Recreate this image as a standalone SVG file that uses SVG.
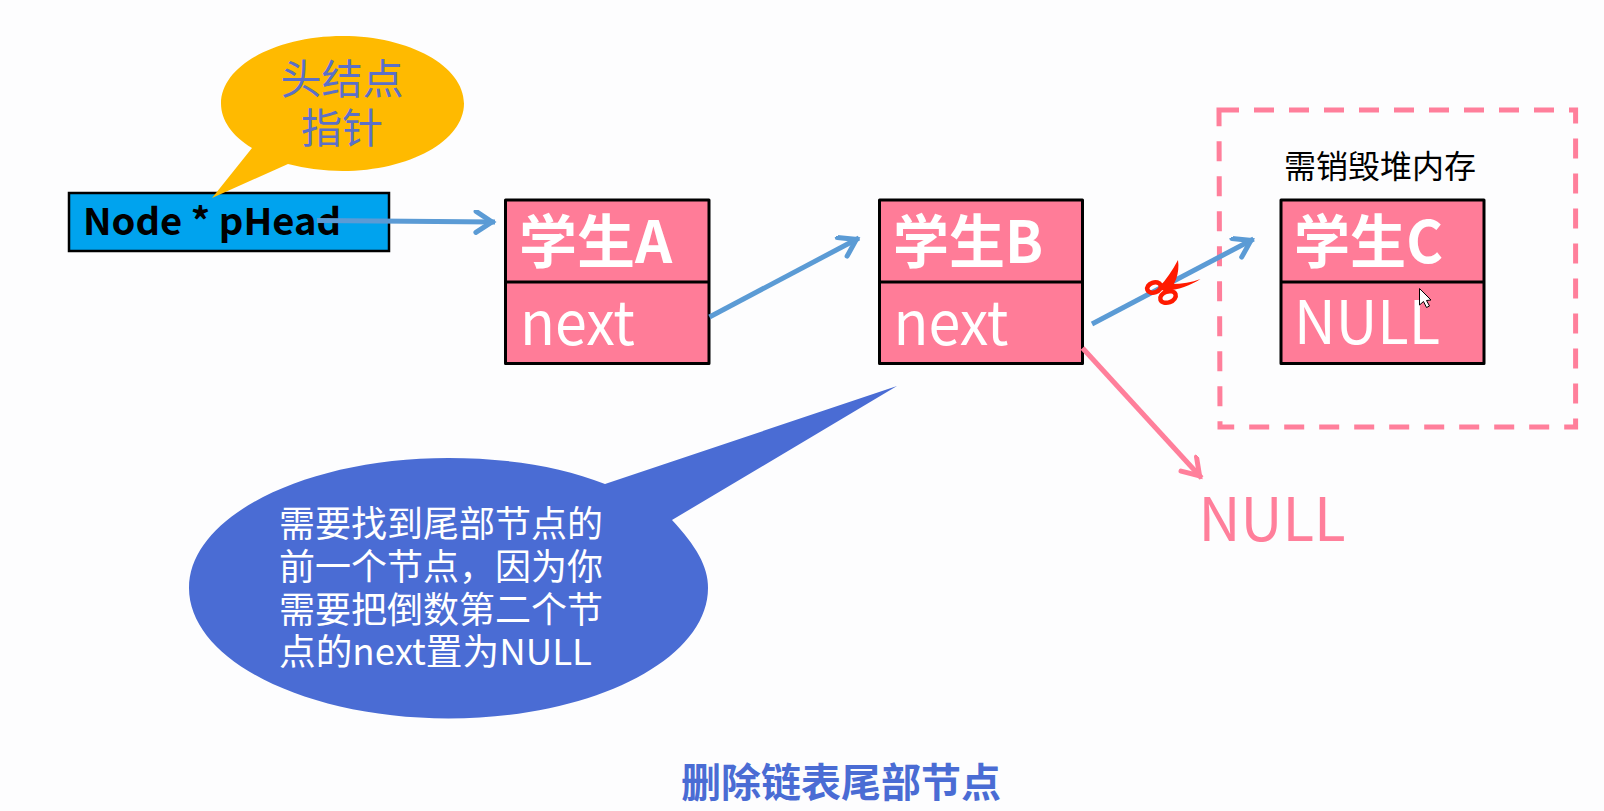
<svg xmlns="http://www.w3.org/2000/svg" width="1604" height="811" viewBox="0 0 1604 811">
<style>
text{font-family:"Noto Sans CJK SC","Noto Sans",sans-serif}
.box{fill:#FF7C98;stroke:#000;stroke-width:3;stroke-linejoin:round}
.div{stroke:#000;stroke-width:3}
.t{fill:#fff;font-size:58px;font-weight:700}
.n{fill:#fff;font-size:60px;font-weight:400}
.c{fill:none;stroke-width:5;stroke-linecap:butt}
.b{stroke:#5B9BD5}
.p{stroke:#FF7F9B}
.w{fill:#fff;font-size:36px}
</style>
<defs>
<marker id="ab" markerUnits="userSpaceOnUse" markerWidth="30" markerHeight="30" refX="25" refY="12" orient="auto" viewBox="0 0 30 30"><path d="M6 1.500L22 12L6 22.500" fill="none" stroke="#5B9BD5" stroke-width="5" stroke-linecap="round"/></marker>
<marker id="ap" markerUnits="userSpaceOnUse" markerWidth="30" markerHeight="30" refX="25" refY="12" orient="auto" viewBox="0 0 30 30"><path d="M6 1.500L22 12L6 22.500" fill="none" stroke="#FF7F9B" stroke-width="5" stroke-linecap="round"/></marker>
</defs>
<rect width="1604" height="811" fill="#FDFDFE"/>
<g id="head-pointer">
<rect x="69" y="193" width="320" height="58" fill="#00A3EE" stroke="#000" stroke-width="2.500"/>
<text x="83" y="235" font-size="37" font-weight="700" fill="#000" textLength="258" lengthAdjust="spacingAndGlyphs">Node * pHead</text>
</g>
<g id="head-callout">
<path d="M252 148L212 198L288 164Q315 171 342.500 171C409.600 171 464 140.800 464 103.500C464 66.200 409.600 36 342.500 36C275.400 36 221 66.200 221 103.500C221 120 232 136 252 148Z" fill="#FFBA00"/>
<text fill="#5B70C8" font-size="41" text-anchor="middle"><tspan x="342" y="94">头结点</tspan><tspan x="342" y="143">指针</tspan></text>
</g>
<g id="node-a">
<rect class="box" x="505.500" y="200" width="203.500" height="163.500"/>
<line class="div" x1="505.500" y1="282" x2="709" y2="282"/>
<text class="t" x="519" y="263">学生A</text>
<text class="n" x="520" y="345" textLength="115" lengthAdjust="spacingAndGlyphs">next</text>
</g>
<g id="node-b">
<rect class="box" x="879.500" y="200" width="203" height="163.500"/>
<line class="div" x1="879.500" y1="282" x2="1082.500" y2="282"/>
<text class="t" x="893" y="263" textLength="150" lengthAdjust="spacingAndGlyphs">学生B</text>
<text class="n" x="893.500" y="345" textLength="115" lengthAdjust="spacingAndGlyphs">next</text>
</g>
<g id="memory-frame">
<path d="M1219 110H1575.600V427H1220Z" fill="none" stroke="#FF7F9B" stroke-width="5" stroke-dasharray="20 15"/>
<text x="1380" y="178" font-size="32" fill="#000" text-anchor="middle">需销毁堆内存</text>
</g>
<g id="node-c">
<rect class="box" x="1281" y="200" width="203" height="163.500"/>
<line class="div" x1="1281" y1="282" x2="1484" y2="282"/>
<text class="t" x="1294" y="263" textLength="149" lengthAdjust="spacingAndGlyphs">学生C</text>
<text class="n" x="1294" y="344" textLength="146" lengthAdjust="spacingAndGlyphs">NULL</text>
</g>
<g id="null-label">
<text x="1198.500" y="541" font-size="60" fill="#FF7F9B" textLength="147" lengthAdjust="spacingAndGlyphs">NULL</text>
</g>
<g id="connectors">
<line class="c b" x1="317" y1="220.500" x2="495" y2="222" marker-end="url(#ab)"/>
<line class="c b" x1="709.500" y1="317" x2="859" y2="238" marker-end="url(#ab)"/>
<line class="c b" x1="1092" y1="324" x2="1253.600" y2="239" marker-end="url(#ab)"/>
<line class="c p" x1="1082.500" y1="348" x2="1201.600" y2="478" marker-end="url(#ap)"/>
</g>
<g id="note-callout">
<path d="M605 484L897 386L672 520C696 546 708 566 708 588C708 660 591.800 718.500 448.500 718.500C305.200 718.500 189 660 189 588C189 516.200 305.200 458 448.500 458C505 458 560 466 605 484Z" fill="#4A6CD4"/>
<text class="w" x="279" y="537">需要找到尾部节点的</text>
<text class="w" x="279" y="580">前一个节点，因为你</text>
<text class="w" x="279" y="623">需要把倒数第二个节</text>
<text class="w" x="279" y="665" textLength="313" lengthAdjust="spacingAndGlyphs">点的next置为NULL</text>
</g>
<g id="scissors">
<ellipse cx="1154" cy="287.500" rx="7" ry="5" fill="none" stroke="#FF1A00" stroke-width="4.500" transform="rotate(-20 1154 287.500)"/>
<ellipse cx="1168" cy="297" rx="8" ry="5.500" fill="none" stroke="#FF1A00" stroke-width="4.500" transform="rotate(-20 1168 297)"/>
<path d="M1178 260C1180 273 1175 287 1166 293L1159 287C1166 280 1172 271 1178 260Z" fill="#FF1A00"/>
<path d="M1200.500 279C1190 286 1173 292 1161 290L1158 283C1172 285 1188 284 1200.500 279Z" fill="#FF1A00"/>
</g>
<g id="cursor">
<path d="M1419.500 288.500V305L1423.500 301.500L1426.500 307.500L1429.500 306L1426.500 300.500L1431 300Z" fill="#fff" stroke="#000" stroke-width="1"/>
</g>
<g id="title">
<text x="681" y="797" font-size="40" font-weight="700" fill="#4A6CD4">删除链表尾部节点</text>
</g>
</svg>
